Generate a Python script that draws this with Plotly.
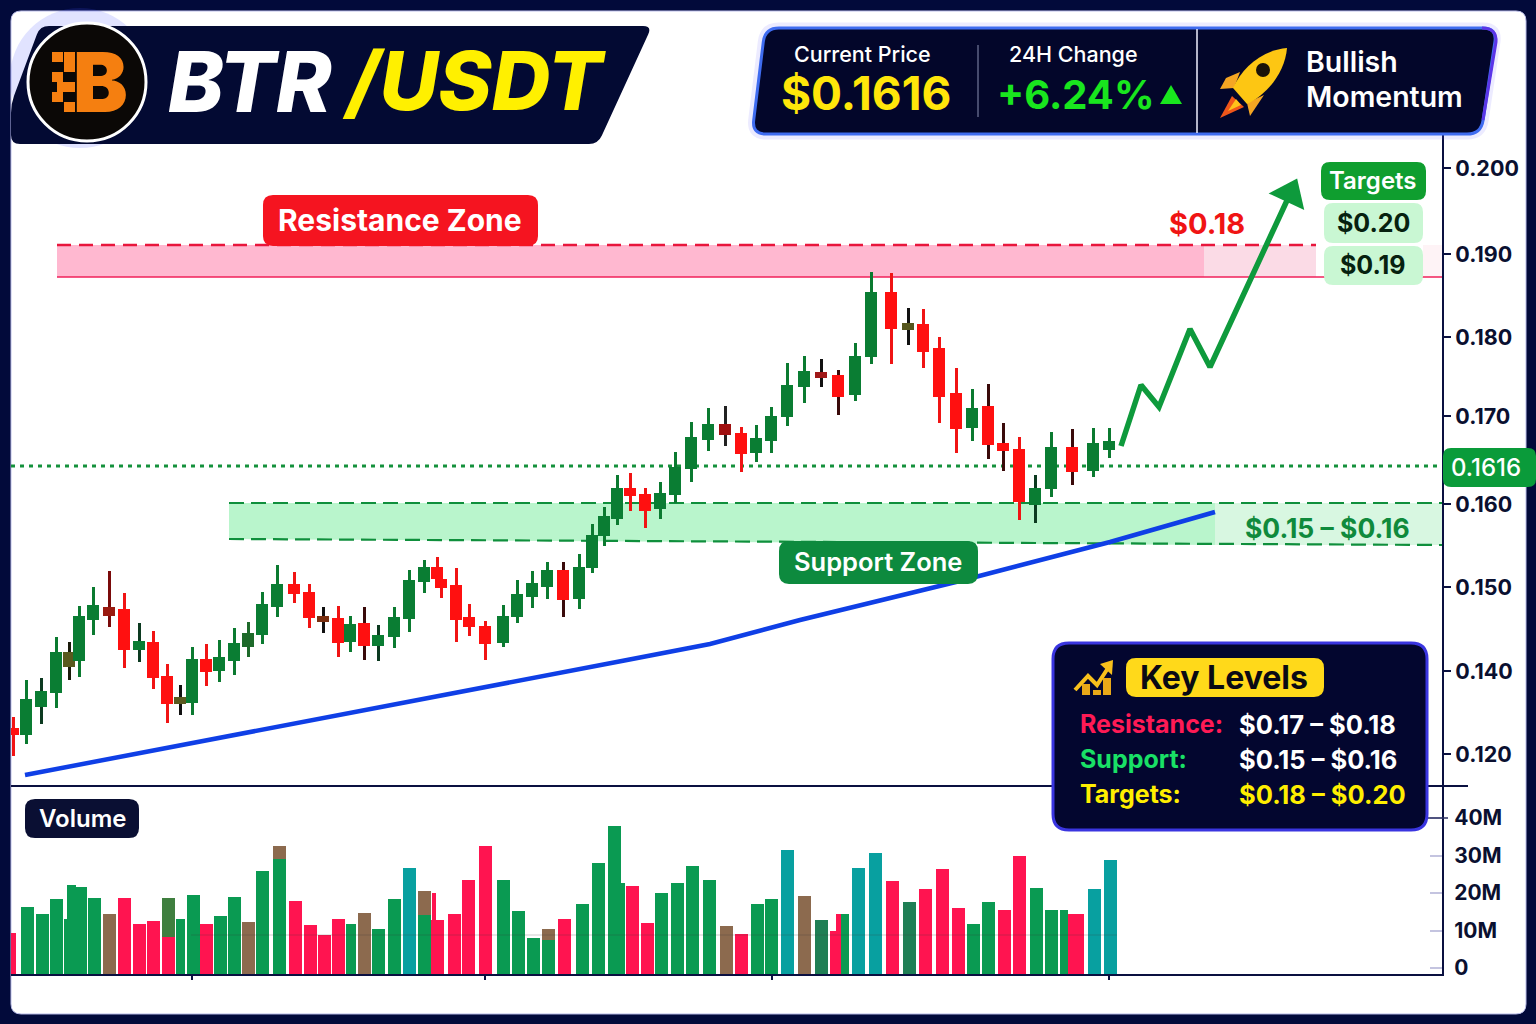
import plotly.graph_objects as go

# ---------- data: price pane (x = minutes since chart start, 15-minute candles) ----------
candle_minute = [2,15,30,45,58,68,82,98,113,128,142,156,169,181,195,208,223,237,251,266,283,298,312,327,339,353,367,383,398,413,
                 426,430,445,458,474,492,506,521,536,552,568,581,593,606,619,634,649,664,680,697,714,730,745,760,776,793,810,827,844,860,
                 880,897,912,928,945,961,977,992,1008,1024,1040,1061,1082,1098]
candle_high = [.13412,.13856,.13880,.14372,.14312,.14744,.14972,.15164,.14900,.14540,.14444,.14048,.13796,.14252,.14288,.14336,.14480,.14552,.14912,.15236,
               .15152,.15008,.14732,.14744,.14624,.14732,.14516,.14732,.15176,.15296,.15332,.15140,.15200,.14768,.14564,.14756,.15056,.15164,.15272,.15272,
               .15368,.15728,.15932,.16316,.16340,.16160,.16232,.16592,.16952,.17120,.17144,.16892,.16916,.17132,.17660,.17744,.17708,.17576,.17900,.18752,
               .18740,.18320,.18308,.17972,.17600,.17348,.17408,.16940,.16772,.16316,.16832,.16868,.16880,.16880]
candle_low = [.12944,.13088,.13328,.13520,.13856,.13892,.14396,.14492,.14000,.14072,.13748,.13340,.13436,.13436,.13784,.13832,.13916,.14132,.14288,.14612,
              .14780,.14480,.14420,.14132,.14192,.14096,.14084,.14240,.14432,.14900,.15056,.14840,.14312,.14384,.14096,.14252,.14540,.14720,.14828,.14612,
              .14708,.15140,.15464,.15716,.15884,.15680,.15788,.15980,.16232,.16604,.16664,.16352,.16472,.16580,.16904,.17180,.17372,.17036,.17204,.17648,
              .17648,.17876,.17600,.16940,.16580,.16724,.16508,.16364,.15776,.15740,.16052,.16196,.16292,.16520]
candle_open = [.13280,.13196,.13532,.13700,.14012,.14084,.14576,.14732,.14708,.14216,.14312,.13904,.13568,.13580,.14108,.13964,.14084,.14252,.14396,.14732,
               .15008,.14912,.14624,.14600,.14312,.14540,.14264,.14372,.14588,.15032,.15212,.15068,.14996,.14612,.14504,.14300,.14612,.14852,.14972,.15176,
               .14828,.15200,.15584,.15788,.16160,.16088,.15908,.16076,.16388,.16736,.16928,.16820,.16580,.16724,.17012,.17372,.17552,.17516,.17276,.17732,
               .18512,.18056,.18128,.17840,.17300,.16880,.17144,.16700,.16628,.15956,.16148,.16652,.16364,.16616]
candle_close = [.13196,.13628,.13724,.14192,.14192,.14624,.14756,.14624,.14216,.14324,.13880,.13568,.13652,.14108,.13952,.14132,.14300,.14420,.14768,.15008,
                .14888,.14600,.14552,.14300,.14528,.14264,.14396,.14612,.15056,.15212,.15068,.14960,.14576,.14492,.14288,.14624,.14888,.15020,.15176,.14816,
                .15212,.15596,.15824,.16160,.16064,.15884,.16100,.16412,.16772,.16928,.16796,.16568,.16760,.17024,.17396,.17564,.17480,.17252,.17744,.18512,
                .18068,.18140,.17792,.17252,.16868,.17120,.16676,.16604,.15992,.16160,.16652,.16352,.16700,.16724]

trend_minute = [14,389,616,699,789,949,1099,1204]
trend_price = [.12716,.13568,.14096,.14288,.14576,.15044,.15512,.15872]

projection_minute = [1110,1130,1148,1179,1199,1279]
projection_price = [.16664,.17396,.17132,.18068,.17612,.19688]

resistance_top, resistance_bottom = .19076, .18692
support_top, support_bottom_left, support_bottom_right = .15980, .15548, .15476
price_line_level = .16424

price_tick_positions = [.20000,.18968,.17972,.17024,.15968,.14972,.13964,.12968]
price_tick_labels = ["0.200","0.190","0.180","0.170","0.160","0.150","0.140","0.120"]

# ---------- data: volume pane ----------
vol_minute = [2,16.5,31,45,60,56,70,83.5,98.5,113,128,142.5,157,157,169.5,182,195,209,223.5,237.5,251.5,268,268,284,299,313,327.5,340,353.5,367.7,
              383.5,398,413.5,413.5,422.5,426,443,457,474,492,507.5,522.5,537.5,537.5,553.5,571,587,603,605.5,621,636,650,666,681,698,715.5,730.5,746,760.5,776,
              793,810.5,825.5,828.5,834,847,864,881,898,914,931,947,962,977,993,1008.5,1025,1040.5,1053,1065,1083,1099]
vol_millions = [9.4,16.4,14.5,18.4,22.1,13.2,21.6,18.7,14.3,18.7,11.8,12.5,18.7,8.4,13.2,19.6,11.7,13.8,18.9,12.4,25.8,32.5,29.2,17.9,11.4,8.8,13.1,11.7,14.8,10.3,
                18.5,26.8,20.5,14.1,20.1,12.8,14.5,23.5,32.6,23.6,15.2,8.1,10.3,7.5,13.2,17.1,28.1,37.8,22.7,21.9,12.1,19.9,22.8,27.2,23.6,11.2,9.2,17.1,18.4,31.5,
                19.2,12.7,9.9,14.5,14.4,26.7,30.8,23.2,17.7,21.2,26.5,16.0,11.8,17.7,15.4,29.9,21.4,15.4,15.4,14.3,21.2,28.8]
vol_tint = list("rgggggggbrrrmrgg" "rgg" "bgbgrrrrgbggt" "bgrrrrrgggbgrgggg" "rrggggbr" "gg" "tbdrrgttr" "drrrggrrggg" "rtt")
vol_tick_values = [0, 10, 20, 30, 40]
vol_tick_labels = ["0", "10M", "20M", "30M", "40M"]
vol_floor = -1.6

x_tick_minutes = [181, 474, 761, 1098]

# ---------- styles ----------
W, H = 1536, 1024
FONT = "Inter"
UP, DOWN = "#0a7d33", "#ff1010"
VOL_COL = dict(g="#0a9a52", r="#ff1450", b="#8c6a4e", m="#3f7f3f", t="#08a0a0", d="#1f7f55")
NARROW = {2:6, 60:9, 56:6, 70:11, 169.5:9.5, 340:10, 422.5:4, 605.5:17, 828.5:7, 834:8, 1053:8, 1065:16}
CANDLE_TINT = {4:("#5a5a1e","#1a1a0a"), 7:("#9a1a10","#7a0a0a"), 12:("#5a5a20","#111111"), 17:("#1e6a2a","#1e6a2a"),
               22:("#7a3010","#111111"), 50:("#a01010","#222222"), 56:("#a01818","#111111"), 61:("#55561e","#111111")}
DARK_WICKS = {2, 25, 26, 39, 57, 66, 67, 69, 71, 9}

body_col, wick_col = [], []
for i, (o, c) in enumerate(zip(candle_open, candle_close)):
    b = UP if c >= o else DOWN
    w = "#0b7a30" if c >= o else "#f01414"
    if i in DARK_WICKS:
        w = "#0c3a20" if c >= o else "#3a0a0a"
    if i in CANDLE_TINT:
        b, w = CANDLE_TINT[i]
    body_col.append(b)
    wick_col.append(w)

fig = go.Figure()
fig.add_bar(x=candle_minute, base=candle_low, y=[h - l for h, l in zip(candle_high, candle_low)], width=3,
            marker=dict(color=wick_col, line_width=0), xaxis="x", yaxis="y", name="Wick")
fig.add_bar(x=candle_minute, base=[min(o, c) for o, c in zip(candle_open, candle_close)],
            y=[abs(o - c) for o, c in zip(candle_open, candle_close)], width=12.8,
            marker=dict(color=body_col, line_width=0), xaxis="x", yaxis="y", name="BTR/USDT")
fig.add_scatter(x=trend_minute, y=trend_price, mode="lines", line=dict(color="#0f3fe6", width=4.5), xaxis="x", yaxis="y", name="Trend")
fig.add_scatter(x=projection_minute, y=projection_price, mode="lines+markers", line=dict(color="#0e9a3c", width=5.5),
                marker=dict(symbol="triangle-up", angleref="previous", color="#0e9a3c", opacity=1,
                            size=[0] * (len(projection_minute) - 1) + [34], line_width=0),
                xaxis="x", yaxis="y", name="Projection")
fig.add_bar(x=vol_minute, base=[vol_floor] * len(vol_minute), y=[v - vol_floor for v in vol_millions],
            width=[NARROW.get(m, 13) for m in vol_minute],
            marker=dict(color=[VOL_COL[t] for t in vol_tint], line_width=0), xaxis="x2", yaxis="y2", name="Volume")


def X(x): return x / W
def Y(y): return 1 - y / H


def poly(points, r=0):
    """rounded polygon through pixel points, as a path in paper fractions"""
    n = len(points)
    if r == 0:
        return "M " + " L ".join(f"{X(a):.5f},{Y(b):.5f}" for a, b in points) + " Z"
    out = []
    for i in range(n):
        p0, p1, p2 = points[i - 1], points[i], points[(i + 1) % n]
        def toward(a, b):
            d = ((a[0] - b[0]) ** 2 + (a[1] - b[1]) ** 2) ** .5
            k = min(r, d / 2) / d
            return b[0] + (a[0] - b[0]) * k, b[1] + (a[1] - b[1]) * k
        s, e = toward(p0, p1), toward(p2, p1)
        out.append(("M " if i == 0 else "L ") + f"{X(s[0]):.5f},{Y(s[1]):.5f} Q {X(p1[0]):.5f},{Y(p1[1]):.5f} {X(e[0]):.5f},{Y(e[1]):.5f}")
    return " ".join(out) + " Z"


def box(x0, y0, x1, y1, r=0):
    return poly([(x0, y0), (x1, y0), (x1, y1), (x0, y1)], r)


shapes = []


def shape(path, fill="rgba(0,0,0,0)", line=None, lw=0, layer="above"):
    shapes.append(dict(type="path", xref="paper", yref="paper", path=path, fillcolor=fill,
                       line=dict(color=line or "rgba(0,0,0,0)", width=lw), layer=layer))


def circle(cx, cy, r, fill, line=None, lw=0):
    shapes.append(dict(type="circle", xref="paper", yref="paper", x0=X(cx - r), x1=X(cx + r), y0=Y(cy + r), y1=Y(cy - r),
                       fillcolor=fill, line=dict(color=line or "rgba(0,0,0,0)", width=lw), layer="above"))


def data_rect(x0, x1, y0, y1, fill):
    shapes.append(dict(type="rect", xref="x", yref="y", x0=x0, x1=x1, y0=y0, y1=y1, fillcolor=fill, line_width=0, layer="below"))


def data_line(x0, x1, y0, y1, color, width, dash="solid"):
    shapes.append(dict(type="line", xref="x", yref="y", x0=x0, x1=x1, y0=y0, y1=y1,
                       line=dict(color=color, width=width, dash=dash), layer="below"))


# page frame
shape(box(11, 11, 1526, 1014, 10), "#ffffff", "#b9bce8", 1, "below")

# resistance zone
data_rect(46, 1193, resistance_bottom, resistance_top, "#ffb8d0")
data_rect(1193, 1305, resistance_bottom, resistance_top, "#fbdbe6")
data_rect(1412, 1431, resistance_bottom, resistance_top, "#fef3f6")
data_line(46, 1305, resistance_top, resistance_top, "#e8163c", 2.4, "14px,8px")
data_line(46, 1431, resistance_bottom, resistance_bottom, "#f0205a", 1.6)

# support zone
shapes.append(dict(type="path", xref="x", yref="y", layer="below", fillcolor="#b9f5cc", line_width=0,
                   path=f"M 218,{support_top} L 1204,{support_top} L 1204,{support_bottom_right} L 218,{support_bottom_left} Z"))
shapes.append(dict(type="path", xref="x", yref="y", layer="below", fillcolor="#d8f7e1", line_width=0,
                   path=f"M 1204,{support_top} L 1431,{support_top} L 1431,{support_bottom_right} L 1204,{support_bottom_right} Z"))
data_line(218, 1431, support_top, support_top, "#0f8f3c", 2.2, "15px,7px")
data_line(218, 1431, support_bottom_left, support_bottom_right, "#0f8f3c", 2.2, "15px,7px")

# current price
data_line(0, 1431, price_line_level, price_line_level, "#14913c", 2.8, "4px,5px")

# faint grid through the volume bars
shapes.append(dict(type="line", xref="x2", yref="y2", x0=180, x1=1106, y0=8.8, y1=8.8,
                   line=dict(color="rgba(60,60,60,0.25)", width=1), layer="above"))

# pane divider
shape(f"M {X(11)},{Y(786)} L {X(1468)},{Y(786)}", line="#0a1040", lw=2)
shape(f"M {X(1428)},{Y(818)} L {X(1448)},{Y(818)}", line="#2a2f60", lw=1.5)

# title banner
circle(80, 78, 70, "rgba(70,80,255,0.16)")
shape(poly([(40, 26), (652, 26), (598, 144), (11, 144), (11, 104)], 9), "#030a33", None, 0)
circle(87, 82, 59, "#0b0806", "#ffffff", 3)
for sx, sy in [(52, 52), (64, 62), (64, 52), (52, 72), (64, 82), (52, 92), (64, 102), (57, 82)]:
    shape(box(sx, sy, sx + 11, sy + 10), "#f57f10")

# stats panel
stat_points = [(765, 28), (1497, 28), (1481, 134), (752, 134)]
shape(poly(stat_points, 14), "rgba(0,0,0,0)", "rgba(110,100,255,0.13)", 11)
shape(poly(stat_points, 14), "#03062a", "#3f6cf0", 3)
shape(f"M {X(1482)},{Y(28)} Q {X(1497)},{Y(28)} {X(1496)},{Y(42)} L {X(1483)},{Y(120)}", line="#5b35e8", lw=3)
shape(f"M {X(978)},{Y(45)} L {X(978)},{Y(117)}", line="#8a8fb0", lw=1)
shape(f"M {X(1197)},{Y(29)} L {X(1197)},{Y(133)}", line="#f0f0ff", lw=1.5)
shape(poly([(1171, 85), (1182, 104), (1160, 104)]), "#19e61e")

# rocket
shape(f"M {X(1240)},{Y(72)} L {X(1226)},{Y(78)} L {X(1220)},{Y(89)} L {X(1234)},{Y(88)} Z", "#f5a623")
shape(f"M {X(1264)},{Y(95)} L {X(1250)},{Y(116)} L {X(1247)},{Y(103)} Z", "#f5a623")
shape(f"M {X(1232)},{Y(96)} L {X(1220)},{Y(118)} L {X(1244)},{Y(107)} Z", "#f0561a")
shape(f"M {X(1236)},{Y(99)} L {X(1228)},{Y(111)} L {X(1241)},{Y(105)} Z", "#ffc21a")
shape(f"M {X(1287)},{Y(48)} C {X(1262)},{Y(50)} {X(1242)},{Y(68)} {X(1233)},{Y(88)} L {X(1247)},{Y(104)} "
      f"C {X(1268)},{Y(94)} {X(1285)},{Y(72)} {X(1287)},{Y(48)} Z", "#fdc613")
circle(1263, 70, 7, "#1a1208")

# pills
shape(box(263, 195, 538, 246, 10), "#f51420")
shape(box(779, 541, 978, 584, 10), "#0d8a3e")
shape(box(25, 799, 139, 838, 10), "#0a0f33")
shape(box(1321, 162, 1426, 200, 9), "#0f9e2f")
shape(box(1324, 203, 1423, 243, 9), "#c9f7d3")
shape(box(1324, 246, 1423, 285, 9), "#c9f7d3")
shape(poly([(1443, 448), (1536, 448), (1536, 487), (1443, 487)], 8), "#0a9b3a")

# key levels panel
shape(box(1053, 643, 1427, 830, 16), "#03062f", "#3a35e0", 3)
shape(box(1126, 658, 1324, 697, 10), "#ffd91a")
shape(f"M {X(1075)},{Y(690)} L {X(1088)},{Y(676)} L {X(1097)},{Y(685)} L {X(1108)},{Y(668)}", line="#f8c01c", lw=4)
shape(poly([(1113, 660), (1112, 675), (1100, 664)]), "#f8c01c")
for bx, by in [(1082, 684), (1093, 690), (1103, 678)]:
    shape(box(bx, by, bx + 8, 695), "#e8a818")

annotations = []


def note(text, x, y, size, color, weight=700, anchor="center", style="normal", family=FONT):
    annotations.append(dict(text=text, x=X(x), y=Y(y), xref="paper", yref="paper", showarrow=False,
                            xanchor=anchor, yanchor="middle", align=anchor,
                            font=dict(family=family, size=size, color=color, weight=weight, style=style)))


note("B", 100, 82, 82, "#f57f10", 900)
note("BTR", 166, 81, 84, "#ffffff", 800, "left", "italic")
note("/USDT", 340, 81, 81, "#fff000", 800, "left", "italic")
note("Current Price", 862, 54, 21.5, "#ffffff", 500)
note("$0.1616", 866, 93, 46, "#ffe60a", 700)
note("24H Change", 1073, 54, 21.5, "#ffffff", 500)
note("+6.24%", 1076, 94, 40, "#19e61e", 700)
note("Bullish", 1304, 61, 28.5, "#ffffff", 600, "left")
note("Momentum", 1304, 96, 28.5, "#ffffff", 600, "left")
note("Resistance Zone", 400, 220, 30, "#ffffff", 700)
note("Support Zone", 878, 561, 25.5, "#ffffff", 600)
note("$0.18", 1207, 223, 29, "#f01414", 700)
note("$0.15 – $0.16", 1327, 528, 26.5, "#0f8a3c", 700)
note("Targets", 1373, 180, 24, "#ffffff", 600)
note("$0.20", 1373, 223, 25, "#06210f", 700)
note("$0.19", 1373, 265, 25, "#06210f", 700)
note("0.1616", 1486, 467, 24, "#ffffff", 500)
note("Volume", 82, 818, 24, "#ffffff", 600)
note("Key Levels", 1224, 677, 32, "#0a0a14", 700)
note("Resistance:", 1078, 724, 25, "#ff1a55", 700, "left")
note("Support:", 1078, 759, 25, "#19e066", 700, "left")
note("Targets:", 1078, 794, 25, "#ffee00", 700, "left")
note("$0.17 – $0.18", 1237, 724, 25.5, "#ffffff", 700, "left")
note("$0.15 – $0.16", 1237, 759, 25.5, "#ffffff", 700, "left")
note("$0.18 – $0.20", 1237, 794, 25.5, "#ffee00", 700, "left")

AX = "#0a1040"
tickfont = dict(family=FONT, size=21.5, weight=650, color="#0a1030")
fig.update_layout(
    width=W, height=H, margin=dict(l=0, r=0, t=0, b=0, autoexpand=False), autosize=False,
    paper_bgcolor="#020a3a", plot_bgcolor="rgba(0,0,0,0)", showlegend=False,
    barmode="overlay", bargap=0, hovermode=False,
    xaxis=dict(domain=[X(11), X(1442)], range=[0, 1431], automargin=False, showgrid=False, zeroline=False, showticklabels=False, ticks="", anchor="y"),
    yaxis=dict(domain=[Y(785), Y(135)], range=[.12596, .20396], automargin=False, side="right", anchor="x", showgrid=False, zeroline=False,
               showline=True, linecolor=AX, linewidth=2, ticks="outside", ticklen=7, tickwidth=2, tickcolor=AX,
               tickmode="array", tickvals=price_tick_positions, ticktext=price_tick_labels, tickfont=tickfont),
    xaxis2=dict(domain=[X(11), X(1442)], range=[0, 1431], automargin=False, showgrid=False, zeroline=False, showticklabels=False, anchor="y2",
                showline=True, linecolor=AX, linewidth=2, ticks="outside", ticklen=4, tickwidth=1.5, tickcolor=AX,
                tickmode="array", tickvals=x_tick_minutes),
    yaxis2=dict(domain=[Y(974), Y(785)], range=[vol_floor, 48.8], automargin=False, side="right", anchor="x2", showgrid=False, zeroline=False,
                showline=True, linecolor=AX, linewidth=2, ticks="inside", ticklen=12, tickwidth=1.5, tickcolor="#c4c4e0",
                ticklabelstandoff=6, tickmode="array", tickvals=vol_tick_values, ticktext=vol_tick_labels,
                tickfont=dict(family=FONT, size=21, weight=650, color="#0a1030")),
    shapes=shapes, annotations=annotations,
)
fig.write_html("out.html", config=dict(displayModeBar=False),
               post_script="document.body.style.margin='0';document.body.style.overflow='hidden';document.body.style.background='#020a3a';")
